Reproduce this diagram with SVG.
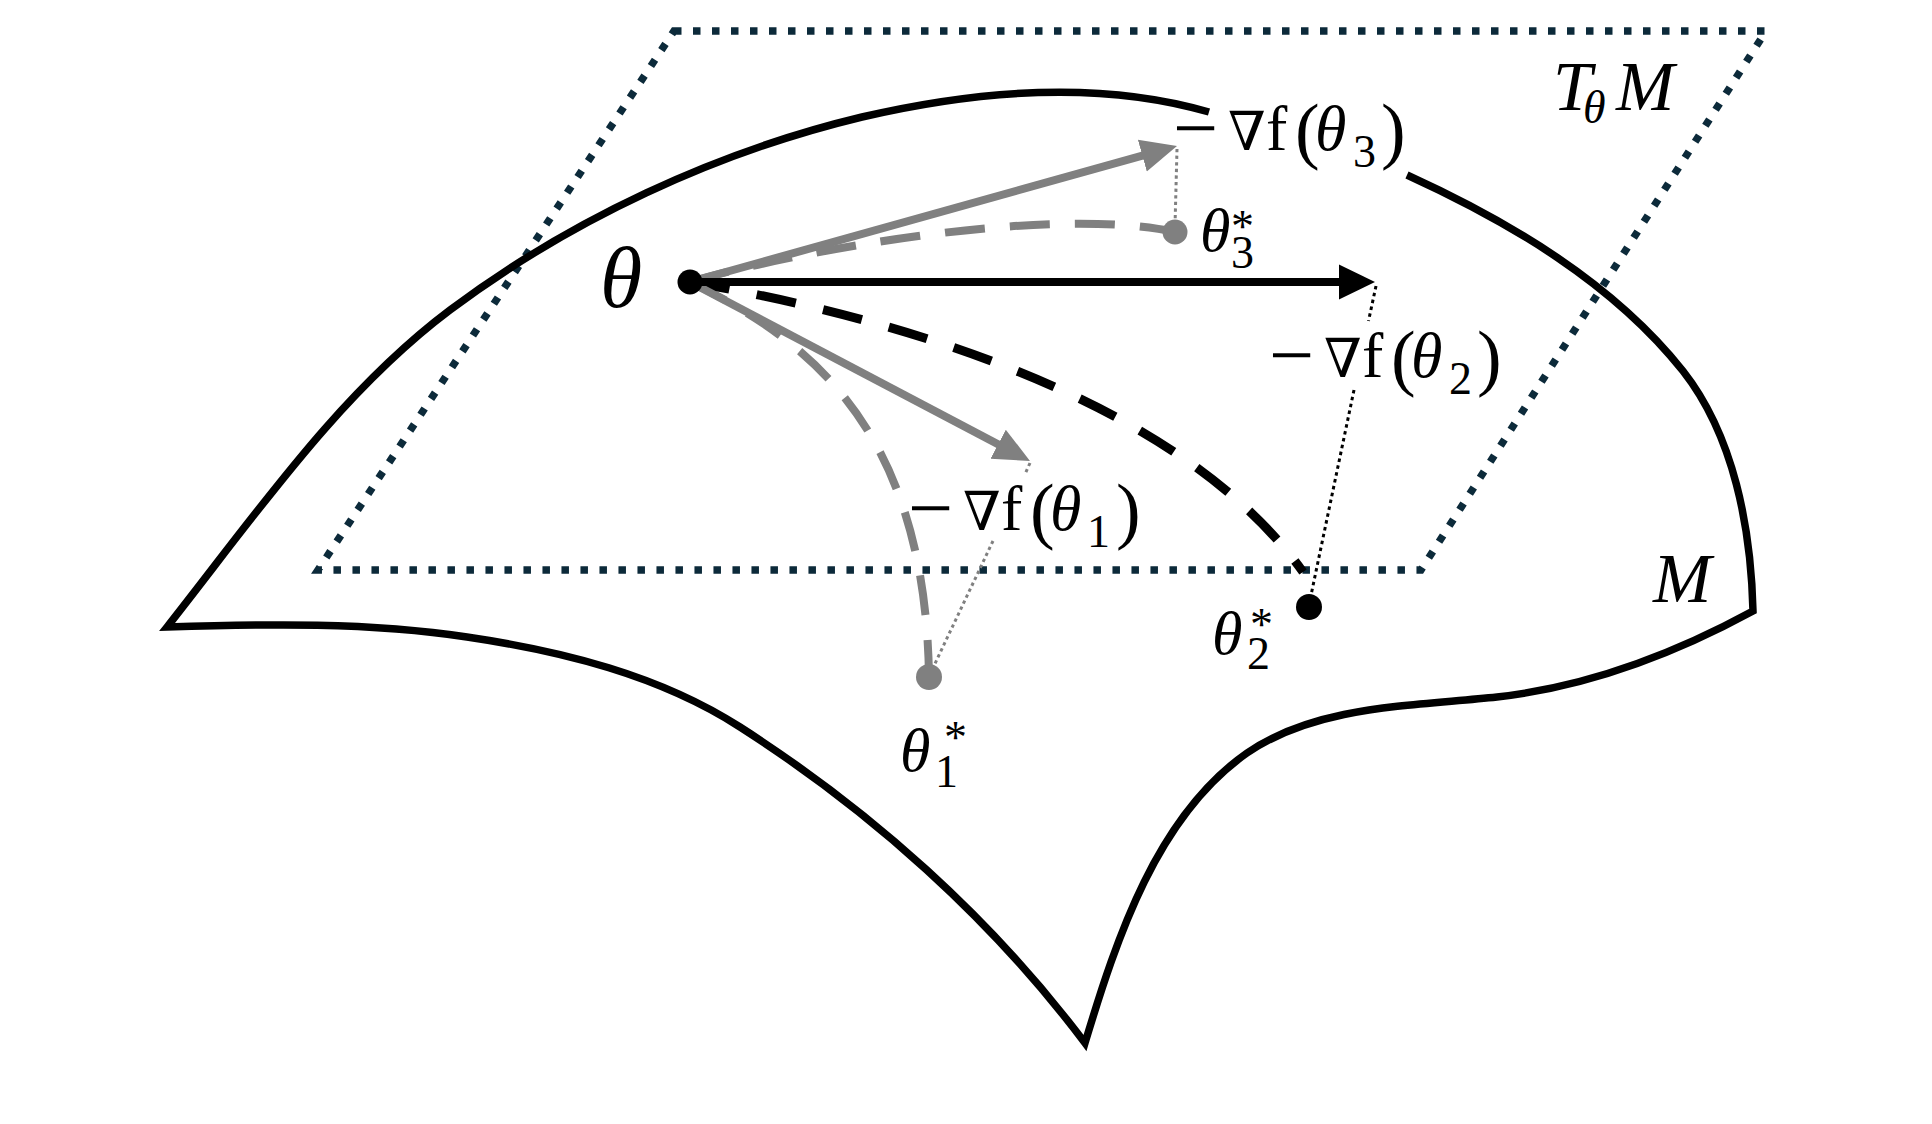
<svg xmlns="http://www.w3.org/2000/svg" width="1932" height="1124" viewBox="0 0 1932 1124">
<style>
.outline{fill:none;stroke:#000;stroke-width:7.5;stroke-linejoin:miter;stroke-miterlimit:12}
.plane{fill:none;stroke:#0c2a3a;stroke-width:7.5;stroke-dasharray:7.5 11.5}
.ak{fill:none;stroke:#000;stroke-width:8}
.ag{fill:none;stroke:#808080;stroke-width:8}
.dk{fill:none;stroke:#000;stroke-width:9;stroke-dasharray:40 28}
.dg{fill:none;stroke:#808080;stroke-width:8;stroke-dasharray:40 25}
.pk{fill:none;stroke:#000;stroke-width:3;stroke-dasharray:3.5 3.5}
.pg{fill:none;stroke:#808080;stroke-width:3;stroke-dasharray:3.3 3.3}
text{font-family:"Liberation Serif","DejaVu Serif",serif;fill:#000}
.it{font-style:italic}
.nab{font-family:"DejaVu Serif","Liberation Serif",serif;font-size:54px;font-style:normal}
.mi{font-size:80px}
.pa{font-size:74px}
.sb{font-size:46px;font-style:normal}
.st{font-size:46px;font-style:normal}
</style>
<defs>
<marker id="ahk" markerUnits="userSpaceOnUse" markerWidth="40" markerHeight="40" viewBox="0 -20 40 40" refX="1" refY="0" orient="auto"><path d="M0,-17.5 L36,0 L0,17.5 Z" fill="#000"/></marker>
<marker id="ahg" markerUnits="userSpaceOnUse" markerWidth="40" markerHeight="40" viewBox="0 -20 40 40" refX="1" refY="0" orient="auto"><path d="M0,-16.5 L36,0 L0,16.5 Z" fill="#808080"/></marker>
</defs>
<rect width="1932" height="1124" fill="#fff"/>

<g id="tangent-plane">
<path class="plane" d="M674,31 L1766,31 L1421,570 L318,570 Z"/>
<text class="it" font-size="70"><tspan x="1553" y="110">T</tspan><tspan x="1583" y="123" font-size="46">θ</tspan><tspan x="1616" y="110">M</tspan></text>
</g>

<g id="manifold">
<path class="outline" d="M1407,175 C1510,222 1613,283 1683,371 C1734,436 1751,528 1753,611 C1674,654 1586,687 1497,697 C1413,706 1317,705 1247,753 C1157,816 1117,937 1085,1043 C991,918 871,811 740,727 C659,675 562,651 467,637 C368,622 267,624 167,627 C254,517 338,394 450,310 C570,220 716,152 862,117 C974,91 1099,80 1209,112"/>
<text class="it" x="1653" y="602" font-size="70">M</text>
</g>

<g id="connectors">
<path class="dg" d="M690,282 C800,250 1050,205 1175,232"/>
<path class="dg" d="M690,282 C810,340 925,430 929,676"/>
<path class="dk" d="M690,282 C900,318 1180,400 1303,572"/>
<line class="ag" x1="690" y1="282" x2="1143.3" y2="155.4" marker-end="url(#ahg)"/>
<line class="ag" x1="690" y1="282" x2="999" y2="444.7" marker-end="url(#ahg)"/>
<line class="ak" x1="690" y1="282" x2="1340" y2="282" marker-end="url(#ahk)"/>
<line class="pg" x1="1177" y1="149" x2="1175" y2="226"/>
<line class="pk" x1="1376" y1="286" x2="1368.5" y2="321"/>
<line class="pk" x1="1354" y1="390" x2="1310" y2="600"/>
<line class="pg" x1="1030" y1="463" x2="1025" y2="474"/>
<line class="pg" x1="993" y1="541" x2="931" y2="672"/>
</g>

<g id="node-theta">
<circle cx="690" cy="282" r="12.5" fill="#000"/>
<text class="it" x="600" y="307" font-size="86">θ</text>
</g>

<g id="node-grad1">
<text y="530" font-size="64"><tspan class="mi" x="908" y="535">−</tspan><tspan class="nab" x="963" y="530">∇</tspan><tspan x="1001">f</tspan><tspan class="pa" x="1030" y="535">(</tspan><tspan class="it" x="1050" y="530">θ</tspan><tspan class="sb" x="1087" y="547">1</tspan><tspan class="pa" x="1116" y="535">)</tspan></text>
</g>

<g id="node-grad2">
<text y="377" font-size="64"><tspan class="mi" x="1269" y="382">−</tspan><tspan class="nab" x="1324" y="377">∇</tspan><tspan x="1362">f</tspan><tspan class="pa" x="1391" y="382">(</tspan><tspan class="it" x="1411" y="377">θ</tspan><tspan class="sb" x="1449" y="394">2</tspan><tspan class="pa" x="1477" y="382">)</tspan></text>
</g>

<g id="node-grad3">
<text y="150" font-size="64"><tspan class="mi" x="1173" y="155">−</tspan><tspan class="nab" x="1228" y="150">∇</tspan><tspan x="1266">f</tspan><tspan class="pa" x="1295" y="155">(</tspan><tspan class="it" x="1315" y="150">θ</tspan><tspan class="sb" x="1353" y="167">3</tspan><tspan class="pa" x="1381" y="155">)</tspan></text>
</g>

<g id="node-theta1-star">
<circle cx="929" cy="677" r="13" fill="#808080"/>
<text class="it" font-size="62"><tspan x="900" y="771">θ</tspan><tspan class="sb" x="935" y="787">1</tspan><tspan class="st" x="944" y="753">*</tspan></text>
</g>

<g id="node-theta2-star">
<circle cx="1309" cy="607" r="13" fill="#000"/>
<text class="it" font-size="62"><tspan x="1212" y="654">θ</tspan><tspan class="sb" x="1247" y="669">2</tspan><tspan class="st" x="1250" y="640">*</tspan></text>
</g>

<g id="node-theta3-star">
<circle cx="1175" cy="232" r="12.5" fill="#808080"/>
<text class="it" font-size="62"><tspan x="1200" y="251">θ</tspan><tspan class="sb" x="1231" y="268">3</tspan><tspan class="st" x="1231" y="242">*</tspan></text>
</g>
</svg>
